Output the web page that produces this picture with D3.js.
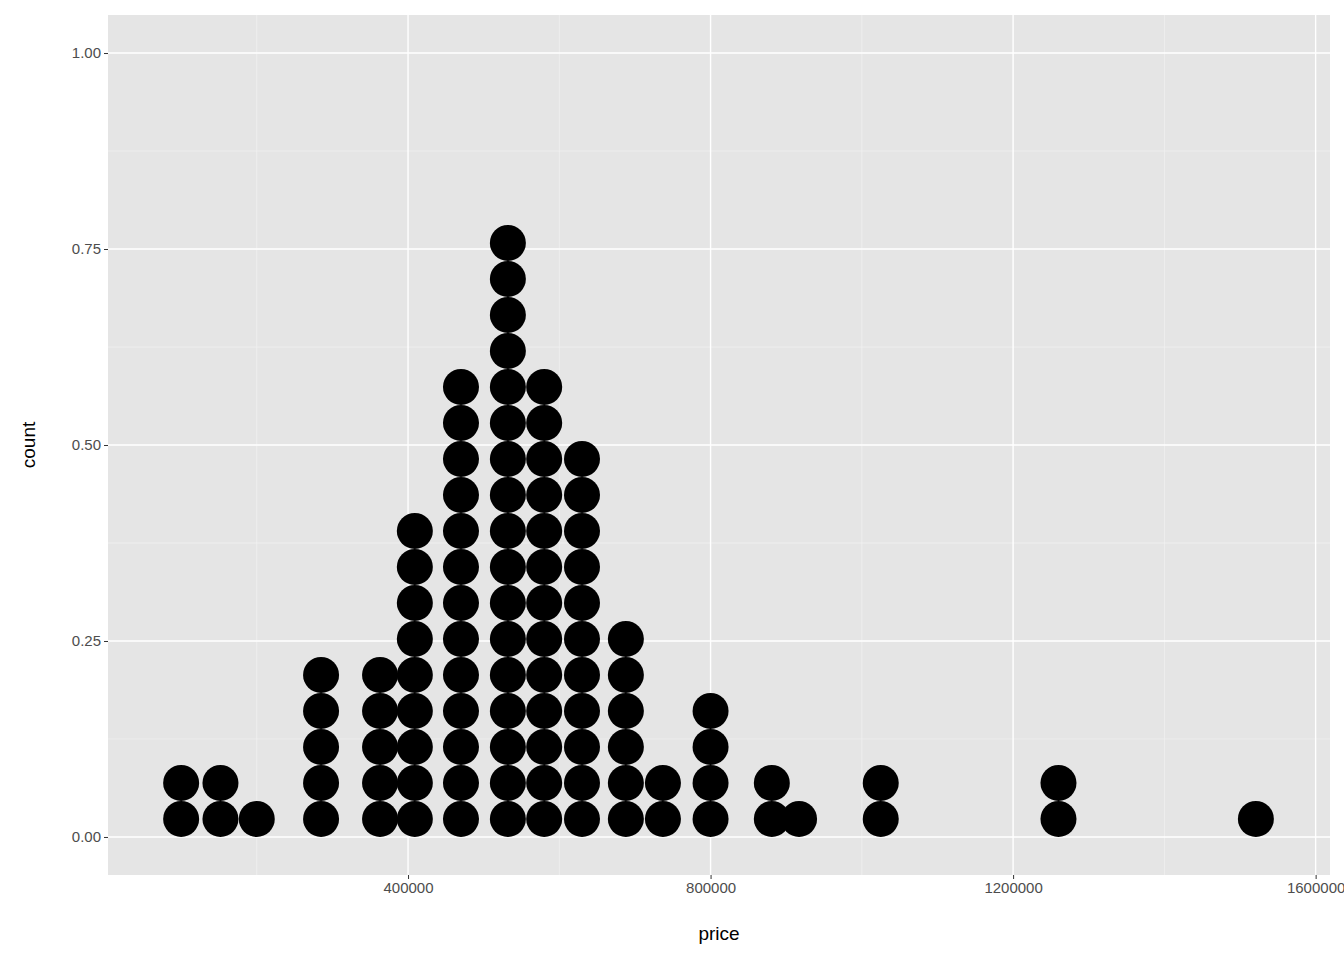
<!DOCTYPE html>
<html>
<head>
<meta charset="utf-8">
<script src="https://cdn.jsdelivr.net/npm/d3@7"></script>
<style>
  body { margin: 0; background: #fff; }
  text { font-family: "Liberation Sans", Arial, sans-serif; }
</style>
</head>
<body>
<div id="chart"></div>
<script>
// stack centres (price) and number of dots in each stack
const binPrices = [100000, 152000, 200000, 285000, 363000, 409000, 470000, 532000, 580000,
                   630000, 688000, 737000, 800000, 881000, 917000, 1025000, 1260000, 1521000];
const binCounts = [2, 2, 1, 5, 5, 9, 13, 17, 13, 11, 6, 2, 4, 2, 1, 2, 2, 1];
const binWidth = 47600;
const xTicks = [400000, 800000, 1200000, 1600000];
const xMinor = [200000, 600000, 1000000, 1400000];
const yTicks = [0, 0.25, 0.5, 0.75, 1];
const yMinor = [0.125, 0.375, 0.625, 0.875];

const W = 1344, H = 960;
const margin = { top: 15, right: 14, bottom: 85, left: 108 };
const pw = W - margin.left - margin.right;
const ph = H - margin.top - margin.bottom;

const svg = d3.select('#chart').append('svg').attr('width', W).attr('height', H);
const g = svg.append('g').attr('transform', `translate(${margin.left},${margin.top})`);

const x = d3.scaleLinear().domain([3300, 1619000]).range([0, pw]);
const y = d3.scaleLinear().domain([-0.0485, 1.0485]).range([ph, 0]);

g.append('rect').attr('width', pw).attr('height', ph).attr('fill', '#e5e5e5');

g.selectAll('.xminor').data(xMinor).enter().append('line')
    .attr('x1', d => x(d)).attr('x2', d => x(d)).attr('y1', 0).attr('y2', ph)
    .attr('stroke', '#f2f2f2').attr('stroke-width', 0.7);
g.selectAll('.yminor').data(yMinor).enter().append('line')
    .attr('y1', d => y(d)).attr('y2', d => y(d)).attr('x1', 0).attr('x2', pw)
    .attr('stroke', '#f2f2f2').attr('stroke-width', 0.7);
g.selectAll('.xmajor').data(xTicks).enter().append('line')
    .attr('x1', d => x(d)).attr('x2', d => x(d)).attr('y1', 0).attr('y2', ph)
    .attr('stroke', '#fff').attr('stroke-width', 1.4);
g.selectAll('.ymajor').data(yTicks).enter().append('line')
    .attr('y1', d => y(d)).attr('y2', d => y(d)).attr('x1', 0).attr('x2', pw)
    .attr('stroke', '#fff').attr('stroke-width', 1.4);

// dots
const r = (x(binWidth) - x(0)) / 2;
const dots = [];
binPrices.forEach((p, i) => {
    for (let k = 0; k < binCounts[i]; k++) dots.push({ p, k });
});
g.selectAll('.dot').data(dots).enter().append('circle')
    .attr('cx', d => x(d.p))
    .attr('cy', d => y(0) - (2 * d.k + 1) * r)
    .attr('r', r)
    .attr('fill', '#000');

// axes
const xAxis = g.append('g').attr('transform', `translate(0,${ph})`)
    .call(d3.axisBottom(x).tickValues(xTicks).tickFormat(d3.format('d')).tickSize(4).tickPadding(3));
const yAxis = g.append('g')
    .call(d3.axisLeft(y).tickValues(yTicks).tickFormat(d3.format('.2f')).tickSize(4).tickPadding(3));
[xAxis, yAxis].forEach(a => {
    a.select('.domain').remove();
    a.selectAll('line').attr('stroke', '#333');
    a.selectAll('text').attr('fill', '#4d4d4d').style('font-size', '15px')
        .style('font-family', '"Liberation Sans", Arial, sans-serif');
});

svg.append('text').attr('x', margin.left + pw / 2).attr('y', 940)
    .attr('text-anchor', 'middle').style('font-size', '19px').text('price');
svg.append('text').attr('transform', `translate(35,${margin.top + ph / 2}) rotate(-90)`)
    .attr('text-anchor', 'middle').style('font-size', '19px').text('count');
</script>
</body>
</html>
